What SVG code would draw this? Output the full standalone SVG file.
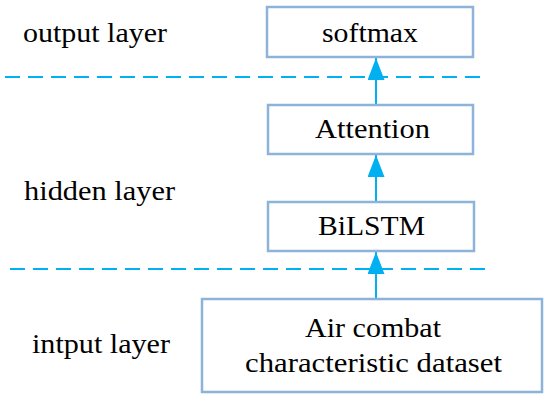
<svg xmlns="http://www.w3.org/2000/svg" width="550" height="402" viewBox="0 0 550 402">
<style>
.box{fill:#ffffff;stroke:#8db3d9;stroke-width:2.5}
.t{font-family:'Liberation Serif','Times New Roman',Times,serif;font-size:27px;fill:#000000}
.c{text-anchor:middle}
.dash{stroke:#00b0f0;stroke-width:2;stroke-dasharray:15 8;fill:none}
.arr{stroke:#00b0f0;stroke-width:2;fill:none;marker-end:url(#ah)}
</style>
<defs>
<marker id="ah" markerUnits="userSpaceOnUse" markerWidth="22" markerHeight="17" refX="22" refY="8.5" orient="auto" viewBox="0 0 22 17">
<path d="M0,0 L22,8.5 L0,17 Z" fill="#00b0f0"/>
</marker>
</defs>
<rect width="550" height="402" fill="#ffffff"/>
<g id="labels">
<text class="t" x="23" y="42" textLength="144" lengthAdjust="spacingAndGlyphs">output layer</text>
<text class="t" x="24" y="200" textLength="151" lengthAdjust="spacingAndGlyphs">hidden layer</text>
<text class="t" x="32" y="353" textLength="138" lengthAdjust="spacingAndGlyphs">intput layer</text>
</g>
<g id="separators">
<line class="dash" x1="5" y1="77" x2="483" y2="77"/>
<line class="dash" x1="10" y1="269" x2="486" y2="269"/>
</g>
<g id="connectors">
<line class="arr" x1="376" y1="299" x2="376" y2="252"/>
<line class="arr" x1="376" y1="202" x2="376" y2="155"/>
<line class="arr" x1="376" y1="105" x2="376" y2="58"/>
</g>
<g id="softmax">
<rect class="box" x="267" y="7" width="206" height="50"/>
<text class="t c" x="370" y="42" textLength="96" lengthAdjust="spacingAndGlyphs">softmax</text>
</g>
<g id="attention">
<rect class="box" x="268" y="105" width="205" height="49"/>
<text class="t c" x="372.5" y="138" textLength="115" lengthAdjust="spacingAndGlyphs">Attention</text>
</g>
<g id="bilstm">
<rect class="box" x="268" y="202" width="206" height="49"/>
<text class="t c" x="371.5" y="235" textLength="107" lengthAdjust="spacingAndGlyphs">BiLSTM</text>
</g>
<g id="dataset">
<rect class="box" x="202" y="299" width="340" height="93"/>
<text class="t c" x="373" y="337" textLength="136" lengthAdjust="spacingAndGlyphs">Air combat</text>
<text class="t c" x="373.5" y="372" textLength="257" lengthAdjust="spacingAndGlyphs">characteristic dataset</text>
</g>
</svg>
